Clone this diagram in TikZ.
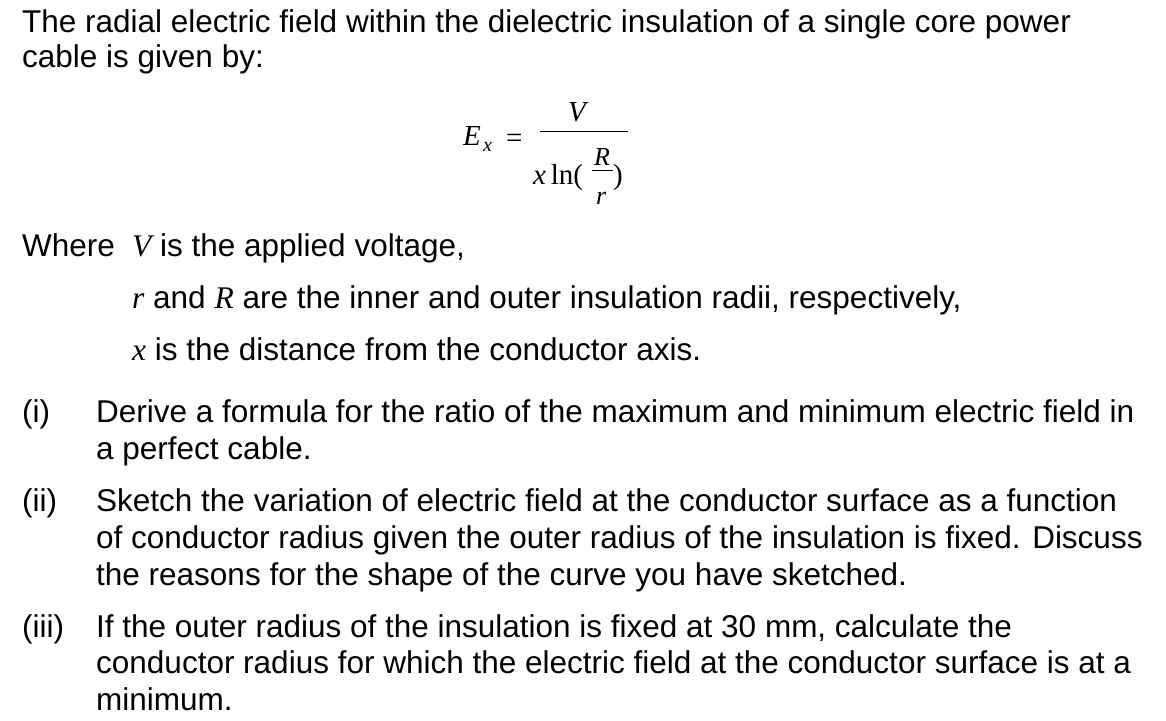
\documentclass[tikz,border=0pt]{standalone}
\usepackage{fontspec}
\setmainfont{Liberation Sans}
\newfontfamily\mserif{Liberation Serif}
\newcommand{\mv}[1]{{\mserif\itshape #1}}
\begin{document}
\begin{tikzpicture}[x=1pt,y=-1pt,every node/.style={inner sep=0pt,anchor=base west,font=\fontsize{31.5}{36}\selectfont}]
\useasboundingbox (0,0) rectangle (1166,720);
\node (l1) at (22,32) {The radial electric field within the dielectric insulation of a single core power};
\node (l2) at (22,67) {cable is given by:};
\node[font=\fontsize{29}{32}\selectfont] (E) at (463,145) {\mv{E}};
\node[font=\fontsize{20}{22}\selectfont] (Ex) at (483,151) {\mv{x}};
\node[font=\fontsize{29}{32}\selectfont] (eq) at (506,147) {\mserif =};
\node[font=\fontsize{29}{32}\selectfont] (V) at (568,121) {\mv{V}};
\draw[line width=1pt] (540,131) -- (628,131);
\node[font=\fontsize{29}{32}\selectfont] (xl) at (533,184) {\mv{x}\,\mserif ln(};
\node[font=\fontsize{29}{32}\selectfont] (cl) at (613,184) {\mserif )};
\node[font=\fontsize{26}{28}\selectfont] (R) at (594,165) {\mv{R}};
\draw[line width=0.8pt] (592,170) -- (613,170);
\node[font=\fontsize{26}{28}\selectfont] (r) at (596,204) {\mv{r}};
\node (w) at (22,256) {Where};
\node (w2) at (132,256) {\mv{V} is the applied voltage,};
\node (w3) at (132,308) {\mv{r} and \mv{R} are the inner and outer insulation radii, respectively,};
\node (w4) at (132,360) {\mv{x} is the distance from the conductor axis.};
\node (i) at (22,422) {(i)};
\node (i1) at (96,422) {Derive a formula for the ratio of the maximum and minimum electric field in};
\node (i2) at (96,459) {a perfect cable.};
\node (ii) at (22,511) {(ii)};
\node (ii1) at (96,511) {Sketch the variation of electric field at the conductor surface as a function};
\node (ii2) at (96,548) {of conductor radius given the outer radius of the insulation is fixed. Discuss};
\node (ii3) at (96,585) {the reasons for the shape of the curve you have sketched.};
\node (iii) at (22,637) {(iii)};
\node (iii1) at (96,637) {If the outer radius of the insulation is fixed at 30 mm, calculate the};
\node (iii2) at (96,673) {conductor radius for which the electric field at the conductor surface is at a};
\node (iii3) at (96,710) {minimum.};
\end{tikzpicture}
\end{document}
